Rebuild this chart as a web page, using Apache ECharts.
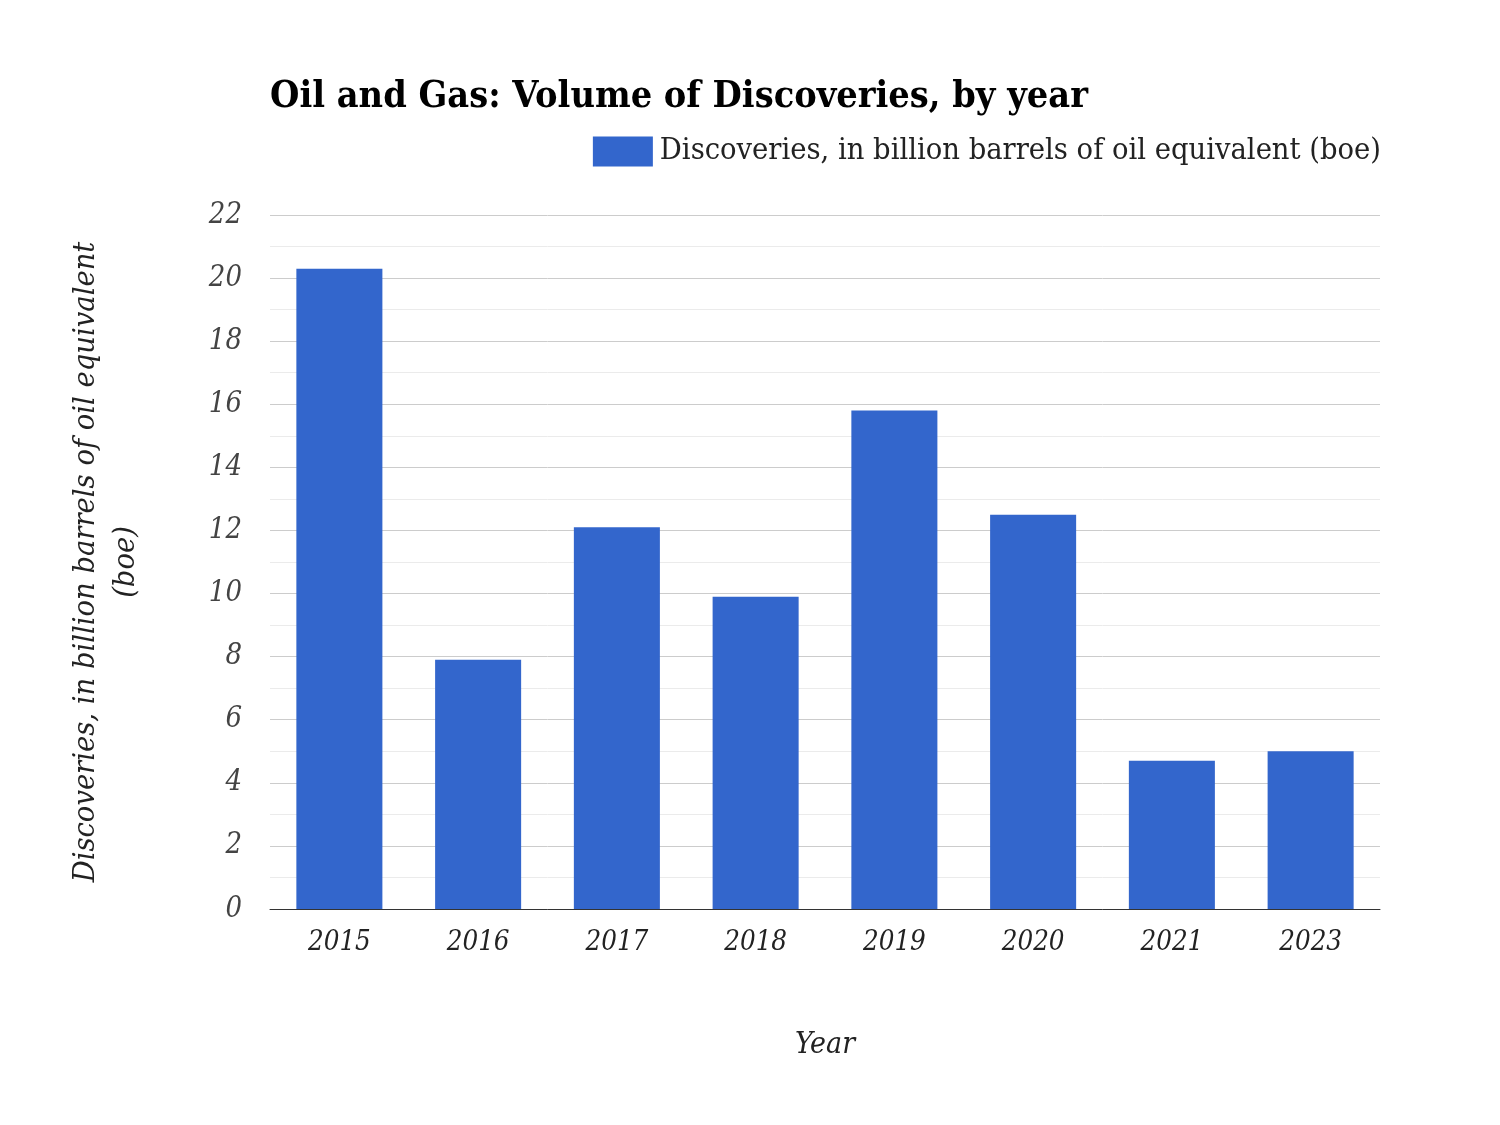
<!DOCTYPE html>
<html><head><meta charset="utf-8">
<script src="https://cdn.jsdelivr.net/npm/echarts@6/dist/echarts.min.js"></script>
<style>html,body{margin:0;padding:0;background:#fff}#c{width:1500px;height:1125px}</style>
</head><body><div id="c"></div>
<script>
const years = ['2015','2016','2017','2018','2019','2020','2021','2023'];
const discoveries = [20.3, 7.9, 12.1, 9.9, 15.8, 12.5, 4.7, 5.0];
const seriesName = 'Discoveries, in billion barrels of oil equivalent (boe)';
const titleText = 'Oil and Gas: Volume of Discoveries, by year';
const yAxisName = 'Discoveries, in billion barrels of oil equivalent\n(boe)';
const xAxisName = 'Year';
const FONT = '"DejaVu Serif Condensed", "DejaVu Serif", serif';

const chart = echarts.init(document.getElementById('c'), null, {renderer:'canvas'});
chart.setOption({
  animation: false,
  title: {
    text: titleText, left: 265, top: 73,
    textStyle: {fontFamily: FONT, fontSize: 37.5, fontWeight: 'bold', color: '#000'}
  },
  legend: {
    right: 114, top: 131, itemWidth: 60, itemHeight: 30, itemGap: 10,
    textStyle: {fontFamily: FONT, fontSize: 30.5, color: '#222', padding: [0,0,0,2]},
    data: [{name: seriesName, icon: 'rect'}]
  },
  grid: {left: 270, right: 120, top: 215, bottom: 216},
  xAxis: {
    type: 'category', data: years,
    name: xAxisName, nameLocation: 'middle', nameGap: 121,
    nameTextStyle: {fontFamily: FONT, fontSize: 30, fontStyle: 'italic', color: '#222'},
    axisLine: {lineStyle: {color: '#333', width: 1}},
    axisTick: {show: false},
    axisLabel: {fontFamily: FONT, fontSize: 27.5, fontStyle: 'italic', color: '#222', margin: 20}
  },
  yAxis: {
    type: 'value', min: 0, max: 22, interval: 2,
    name: yAxisName, nameLocation: 'middle', nameGap: 124, nameRotate: 90,
    nameTextStyle: {fontFamily: FONT, fontSize: 30.5, fontStyle: 'italic', color: '#222', lineHeight: 40},
    axisLine: {show: false}, axisTick: {show: false},
    axisLabel: {fontFamily: FONT, fontSize: 29, fontStyle: 'italic', color: '#444', margin: 28},
    splitLine: {lineStyle: {color: '#cccccc', width: 1}},
    minorTick: {show: false, splitNumber: 2},
    minorSplitLine: {show: true, lineStyle: {color: '#ebebeb', width: 1}}
  },
  series: [{
    name: seriesName, type: 'bar', data: discoveries,
    barWidth: '62%', itemStyle: {color: '#3366CC'}
  }]
});
</script></body></html>
